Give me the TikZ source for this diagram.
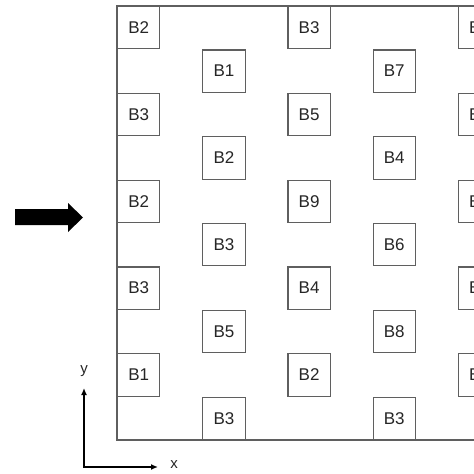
\documentclass[tikz,border=0pt]{standalone}
\usepackage{fontspec}
\setmainfont{Liberation Sans}
\usetikzlibrary{positioning, matrix, arrows.meta}
\definecolor{boxgray}{RGB}{95,95,95}

\begin{document}
\begin{tikzpicture}[x=1pt, y=-1pt,
    bx/.style={draw=boxgray, line width=1.1pt, minimum size=42.3pt, inner sep=0pt,
      outer sep=0pt, font=\fontsize{17}{19}\selectfont, text=black!85},
    ax/.style={{Latex[length=7pt,width=6pt]}-{Latex[length=7pt,width=6pt]}, line width=1.4pt},
    lbl/.style={font=\fontsize{15}{17}\selectfont, text=black!85, inner sep=0pt}]
  \useasboundingbox (0,0) rectangle (474,474);
  \clip (0,0) rectangle (474,474);
  \matrix (field) [anchor=north west, draw=boxgray, line width=1.1pt, inner sep=0pt,
      outer sep=0pt, row sep=0pt, column sep=41.8pt] at (117,6) {
    \node[bx] (a1) {B2}; & & \node[bx] (c1) {B3}; & & \node[bx] (e1) {B2};\\
    & \node[bx] (b1) {B1}; & & \node[bx] (d1) {B7}; & \\
    \node[bx] (a2) {B3}; & & \node[bx] (c2) {B5}; & & \node[bx] (e2) {B3};\\
    & \node[bx] (b2) {B2}; & & \node[bx] (d2) {B4}; & \\
    \node[bx] (a3) {B2}; & & \node[bx] (c3) {B9}; & & \node[bx] (e3) {B2};\\
    & \node[bx] (b3) {B3}; & & \node[bx] (d3) {B6}; & \\
    \node[bx] (a4) {B3}; & & \node[bx] (c4) {B4}; & & \node[bx] (e4) {B3};\\
    & \node[bx] (b4) {B5}; & & \node[bx] (d4) {B8}; & \\
    \node[bx] (a5) {B1}; & & \node[bx] (c5) {B2}; & & \node[bx] (e5) {B1};\\
    & \node[bx] (b5) {B3}; & & \node[bx] (d5) {B3}; & \\
  };
  % flow direction
  \fill (15,209) -- (68,209) -- (68,203) -- (83,217.5) -- (68,232) -- (68,225)
    -- (15,225) -- cycle;
  % axes
  \coordinate (o) at (84,467);
  \coordinate (ytip) at (84,388);
  \coordinate (xtip) at (158,467);
  \draw[ax] (ytip) -- (o) -- (xtip);
  \node[lbl] (ylab) at (84,371) {y};
  \node[lbl] (xlab) at (174,465) {x};
\end{tikzpicture}
\end{document}
